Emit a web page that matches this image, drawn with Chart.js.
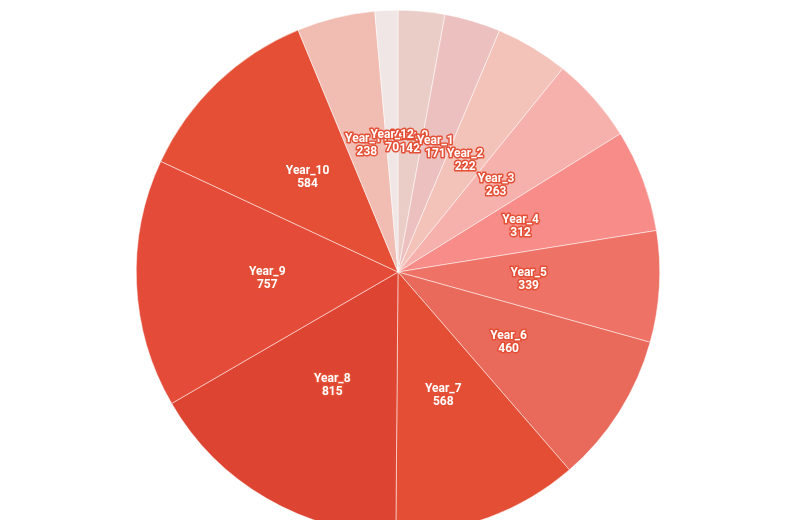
<!DOCTYPE html>
<html>
<head>
<meta charset="utf-8">
<script src="https://cdn.jsdelivr.net/npm/chart.js@4"></script>
<style>
html, body { margin: 0; padding: 0; overflow: hidden; background: #fff; }
#wrap { width: 796px; height: 544px; }
</style>
</head>
<body>
<div id="wrap"><canvas id="pieChart"></canvas></div>
<script>
// Datos del gráfico
const categories = ['Year_0', 'Year_1', 'Year_2', 'Year_3', 'Year_4', 'Year_5', 'Year_6',
    'Year_7', 'Year_8', 'Year_9', 'Year_10', 'Year_11', 'Year_12'];
const values = [142, 171, 222, 263, 312, 339, 460, 568, 815, 757, 584, 238, 70];
const colors = ['#ebcdc8', '#edc0c0', '#f3c2b8', '#f6b1ac', '#f78c88', '#ee7266', '#e9695a',
    '#e44e35', '#dd4431', '#e44b39', '#e44f35', '#f1bcb2', '#f0e6e6'];

// Etiquetas dentro de cada sector
const sliceLabels = {
    id: 'sliceLabels',
    afterDatasetsDraw(chart) {
        const ctx = chart.ctx;
        const meta = chart.getDatasetMeta(0);
        ctx.save();
        ctx.font = 'bold 12px Roboto, sans-serif';
        ctx.textAlign = 'center';
        ctx.textBaseline = 'middle';
        ctx.lineJoin = 'round';
        meta.data.forEach(function(arc, i) {
            const mid = (arc.startAngle + arc.endAngle) / 2;
            const r = arc.outerRadius * 0.5;
            const x = arc.x + Math.cos(mid) * r;
            const y = arc.y + Math.sin(mid) * r;
            [[categories[i], y - 6], [String(values[i]), y + 7]].forEach(function(t) {
                ctx.lineWidth = 3;
                ctx.strokeStyle = colors[i] === '#f0e6e6' ? '#e44f35' : '#e44f35';
                ctx.strokeText(t[0], x, t[1]);
                ctx.fillStyle = '#fff';
                ctx.fillText(t[0], x, t[1]);
            });
        });
        ctx.restore();
    }
};

document.addEventListener('DOMContentLoaded', function() {
    new Chart(document.getElementById('pieChart'), {
        type: 'pie',
        data: {
            labels: categories,
            datasets: [{
                data: values,
                backgroundColor: colors,
                borderColor: '#ffffff',
                borderWidth: 0.5
            }]
        },
        options: {
            responsive: true,
            maintainAspectRatio: false,
            animation: false,
            layout: { padding: 10 },
            plugins: { legend: { display: false }, tooltip: { enabled: false } }
        },
        plugins: [sliceLabels]
    });
});
</script>
</body>
</html>
